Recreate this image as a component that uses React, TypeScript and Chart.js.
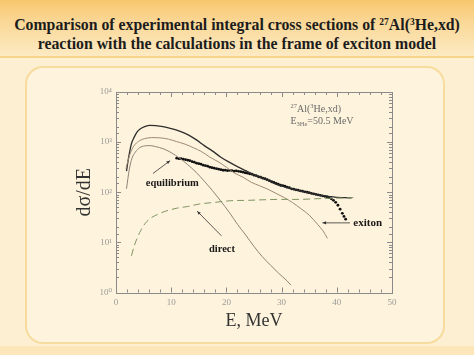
import React, { useEffect, useRef } from "react";
import { Chart, registerables } from "chart.js";

Chart.register(...registerables);

// ---------- data (E in MeV, dσ/dE) ----------
const totalE = [1.9, 2.3, 2.8, 3.3, 3.8, 4.5, 5.2, 6.2, 7.2, 8.5, 10, 11.5, 13, 14.5, 16, 17.5, 19, 20.5, 22, 23.5, 25, 26.5, 28, 29.5, 31, 32.5, 34, 35.5, 37, 38.5, 40, 41.5, 42.7];
const totalY = [263, 501, 933, 1259, 1585, 1862, 2042, 2158, 2138, 2042, 1862, 1660, 1413, 1122, 851, 661, 501, 398, 324, 269, 224, 191, 162, 138, 123, 112, 102, 93, 87, 83, 79, 78, 77];

const excitonE = [1.8, 2.3, 2.9, 3.5, 4.3, 5.2, 6.5, 8, 9.5, 11, 12.5, 14, 15.5, 17, 18.5, 20, 21.5, 23, 24.5, 26, 27.5, 29, 30.5, 32, 33.5, 35, 36.5, 37.5, 38.3];
const excitonY = [295, 479, 724, 912, 1072, 1175, 1230, 1216, 1148, 1023, 912, 776, 646, 501, 407, 316, 240, 200, 158, 135, 115, 95, 78, 62, 47, 35, 23, 17, 12];

const equilE = [1.9, 2.4, 2.9, 3.5, 4.3, 5.2, 6.2, 7.2, 8.5, 10, 11.5, 13, 14.5, 16, 17.5, 19, 20.5, 22, 23.5, 25, 26.5, 28, 29.5, 31, 31.7];
const equilY = [117, 282, 479, 631, 776, 841, 851, 813, 741, 617, 479, 355, 251, 166, 107, 66, 40, 23, 14, 8.3, 5.2, 3.5, 2.4, 1.7, 1.4];

const directE = [2.8, 3.3, 3.9, 4.5, 5.3, 6.2, 7.5, 9, 11, 13, 15, 18, 21, 24, 27, 30, 33, 36, 39, 41, 43];
const directY = [5.4, 8.5, 12.6, 17.4, 24, 30, 36, 42, 48, 52, 58, 63, 68, 69, 71, 72, 72, 74, 76, 77, 78];

const expE = [11.0, 11.4, 11.8, 12.2, 12.6, 13.0, 13.4, 13.8, 14.2, 14.6, 15.0, 15.4, 15.8, 16.2, 16.6, 17.0, 17.4, 17.8, 18.2, 18.6, 19.0, 19.4, 19.8, 20.2, 20.6, 21.0, 21.4, 21.8, 22.2, 22.6, 23.0, 23.4, 23.8, 24.2, 24.6, 25.0, 25.4, 25.8, 26.2, 26.6, 27.0, 27.4, 27.8, 28.2, 28.6, 29.0, 29.4, 29.8, 30.2, 30.6, 31.0, 31.4, 31.8, 32.2, 32.6, 33.0, 33.4, 33.8, 34.2, 34.6, 35.0, 35.4, 35.8, 36.2, 36.6, 37.0, 37.4, 37.8, 38.2, 38.6, 39.0, 39.4, 39.8, 40.2, 40.6, 41.0, 41.3, 41.6];
const expY = [479, 468, 468, 457, 447, 437, 427, 407, 398, 380, 372, 363, 347, 339, 331, 316, 309, 302, 295, 288, 282, 275, 276, 269, 274, 270, 263, 268, 262, 257, 251, 245, 240, 234, 229, 219, 214, 204, 200, 191, 186, 178, 170, 162, 158, 151, 145, 138, 135, 132, 126, 123, 117, 115, 112, 110, 107, 105, 102, 100, 98, 95, 93, 91, 89, 87, 85, 83, 81, 78, 74, 69, 63, 55, 46, 38, 33, 29];

const xTickLabels = ["0", "10", "20", "30", "40", "50"];
const yTickLabels = ["10⁰", "10¹", "10²", "10³", "10⁴"];

const xTitle = "E, MeV";
const yTitle = "dσ/dE";

// ---------- styles ----------
const SERIF = "'Liberation Serif', 'Times New Roman', 'DejaVu Serif', serif";
const AXIS = "#8a8a8a";
const TICKTXT = "#9a9a9a";

// annotation anchors in data coordinates
const ANNOTATIONS = [
  { text: [{ t: "equilibrium" }], x: 10.2, y: 150, align: "center", font: "bold 10.5px", color: "#1a1a1a" },
  { text: [{ t: "direct" }], x: 19.2, y: 7.4, align: "center", font: "bold 10.5px", color: "#1a1a1a" },
  { text: [{ t: "exiton" }], x: 43.0, y: 24, align: "left", font: "bold 11px", color: "#1a1a1a" },
  { text: [{ t: "27", s: "sup" }, { t: "Al(" }, { t: "3", s: "sup" }, { t: "He,xd)" }], x: 31.6, y: 4500, align: "left", font: "10px", color: "#6a6a6a" },
  { text: [{ t: "E" }, { t: "3He", s: "sub" }, { t: "=50.5 MeV" }], x: 31.6, y: 2550, align: "left", font: "10px", color: "#6a6a6a" },
];
const ARROWS = [
  { from: [6.7, 237], to: [9.8, 427] },
  { from: [19.1, 13.5], to: [14.7, 42] },
  { from: [42.4, 24.5], to: [37.4, 24.5] },
];

type Part = { t: string; s?: string };

function drawRich(ctx: CanvasRenderingContext2D, parts: Part[], x: number, y: number, align: string, font: string, color: string) {
  const size = parseFloat(font.replace("bold", "").trim());
  const bold = font.includes("bold") ? "bold " : "";
  const small = `${bold}${(size * 0.65).toFixed(1)}px ${SERIF}`;
  const big = `${bold}${size}px ${SERIF}`;
  let w = 0;
  for (const p of parts) {
    ctx.font = p.s ? small : big;
    w += ctx.measureText(p.t).width;
  }
  let cx = align === "center" ? x - w / 2 : x;
  ctx.fillStyle = color;
  ctx.textBaseline = "middle";
  ctx.textAlign = "left";
  for (const p of parts) {
    ctx.font = p.s ? small : big;
    const dy = p.s === "sup" ? -size * 0.35 : p.s === "sub" ? size * 0.3 : 0;
    ctx.fillText(p.t, cx, y + dy);
    cx += ctx.measureText(p.t).width;
  }
}

const framePlugin = {
  id: "frameTicks",
  afterDatasetsDraw(chart: any) {
    const { ctx, chartArea: a, scales } = chart;
    const xs = scales.x;
    const ys = scales.y;
    ctx.save();
    ctx.strokeStyle = AXIS;
    ctx.lineWidth = 1;
    ctx.strokeRect(Math.round(a.left) + 0.5, Math.round(a.top) + 0.5, Math.round(a.right - a.left), Math.round(a.bottom - a.top));
    ctx.beginPath();
    for (const t of xs.ticks) {
      const px = Math.round(xs.getPixelForValue(t.value)) + 0.5;
      const len = t.value % 10 === 0 ? 5 : 3;
      ctx.moveTo(px, a.bottom);
      ctx.lineTo(px, a.bottom - len);
      ctx.moveTo(px, a.top);
      ctx.lineTo(px, a.top + len);
    }
    for (const t of ys.ticks) {
      const py = Math.round(ys.getPixelForValue(t.value)) + 0.5;
      const lg = Math.log10(t.value);
      const len = Math.abs(lg - Math.round(lg)) < 1e-6 ? 5 : 3;
      ctx.moveTo(a.left, py);
      ctx.lineTo(a.left + len, py);
      ctx.moveTo(a.right, py);
      ctx.lineTo(a.right - len, py);
    }
    ctx.stroke();
    ctx.restore();
  },
  afterDraw(chart: any) {
    const { ctx, scales } = chart;
    const xs = scales.x;
    const ys = scales.y;
    ctx.save();
    ctx.strokeStyle = "#333";
    ctx.fillStyle = "#333";
    ctx.lineWidth = 0.8;
    for (const ar of ARROWS) {
      const x1 = xs.getPixelForValue(ar.from[0]);
      const y1 = ys.getPixelForValue(ar.from[1]);
      const x2 = xs.getPixelForValue(ar.to[0]);
      const y2 = ys.getPixelForValue(ar.to[1]);
      ctx.beginPath();
      ctx.moveTo(x1, y1);
      ctx.lineTo(x2, y2);
      ctx.stroke();
      const ang = Math.atan2(y2 - y1, x2 - x1);
      const hl = 4;
      ctx.beginPath();
      ctx.moveTo(x2, y2);
      ctx.lineTo(x2 - hl * Math.cos(ang - 0.4), y2 - hl * Math.sin(ang - 0.4));
      ctx.lineTo(x2 - hl * Math.cos(ang + 0.4), y2 - hl * Math.sin(ang + 0.4));
      ctx.closePath();
      ctx.fill();
    }
    for (const an of ANNOTATIONS) {
      drawRich(ctx, an.text as Part[], xs.getPixelForValue(an.x), ys.getPixelForValue(an.y), an.align, an.font, an.color);
    }
    ctx.restore();
  },
};

function pts(xsArr: number[], ysArr: number[]) {
  return xsArr.map((x, i) => ({ x, y: ysArr[i] }));
}

function ChartCanvas() {
  const ref = useRef<HTMLCanvasElement | null>(null);
  useEffect(() => {
    if (!ref.current) return;
    const lineBase = { pointRadius: 0, borderWidth: 1, fill: false, cubicInterpolationMode: "monotone" as const };
    const chart = new Chart(ref.current, {
      type: "line",
      data: {
        datasets: [
          { ...lineBase, label: "direct", data: pts(directE, directY), borderColor: "#7f9463", borderDash: [7, 4] },
          { ...lineBase, label: "equilibrium", data: pts(equilE, equilY), borderColor: "#8c8478" },
          { ...lineBase, label: "exciton", data: pts(excitonE, excitonY), borderColor: "#9c8a74" },
          { ...lineBase, label: "total", data: pts(totalE, totalY), borderColor: "#2e2e2e", borderWidth: 1.3 },
          { label: "experiment", data: pts(expE, expY), showLine: false, pointRadius: 1.4, pointBackgroundColor: "#111", pointBorderWidth: 0, borderColor: "#111" },
        ],
      },
      options: {
        animation: false,
        responsive: false,
        maintainAspectRatio: false,
        devicePixelRatio: 1,
        layout: { padding: { left: 0, right: 82, top: 92, bottom: 0 } },
        plugins: { legend: { display: false }, tooltip: { enabled: false } },
        scales: {
          x: {
            type: "linear",
            min: 0,
            max: 50,
            grid: { display: false, drawTicks: false },
            border: { display: false },
            ticks: {
              stepSize: 2,
              autoSkip: false,
              maxRotation: 0,
              padding: 5,
              color: TICKTXT,
              font: { family: SERIF, size: 9 },
              callback: (v: any) => (Number(v) % 10 === 0 ? xTickLabels[Number(v) / 10] : ""),
            },
            title: { display: true, text: xTitle, color: "#333", font: { family: SERIF, size: 18 }, padding: { top: 0, bottom: 23 } },
            afterFit: (s: any) => { s.height = 62.5; },
          },
          y: {
            type: "logarithmic",
            min: 1,
            max: 10000,
            grid: { display: false, drawTicks: false },
            border: { display: false },
            ticks: {
              autoSkip: false,
              padding: 4,
              color: TICKTXT,
              font: { family: SERIF, size: 9 },
              callback: (v: any) => {
                const lg = Math.log10(Number(v));
                return Math.abs(lg - Math.round(lg)) < 1e-6 ? yTickLabels[Math.round(lg)] : "";
              },
            },
            title: { display: true, text: yTitle, color: "#333", font: { family: SERIF, size: 20 }, padding: { top: 73, bottom: 0 } },
            afterFit: (s: any) => { s.width = 116; },
          },
        },
      },
      plugins: [framePlugin],
    });
    return () => chart.destroy();
  }, []);
  return <canvas ref={ref} width={474} height={355} style={{ position: "absolute", left: 0, top: 0, width: 474, height: 355 }} />;
}

export default function App() {
  return (
    <div style={{ position: "fixed", left: 0, top: 0, width: 474, height: 355, overflow: "hidden", background: "#FDEFD2", fontFamily: SERIF }}>
      <div style={{ position: "absolute", left: 0, top: 0, width: 474, height: 56, background: "linear-gradient(#F8C76E 0%, #FAD897 40%, #FDEAC3 100%)" }} />
      <div style={{ position: "absolute", left: 0, top: 56, width: 474, height: 2, background: "#F6D48A" }} />
      <div style={{ position: "absolute", left: 0, top: 346, width: 474, height: 9, background: "#FCE6BA" }} />
      <div style={{ position: "absolute", left: 25, top: 66, width: 420, height: 278, boxSizing: "border-box", border: "2px solid #F7DC9E", borderRadius: 18, background: "#FEF3DC" }} />
      <div style={{ position: "absolute", left: 0, top: 15, width: 474, textAlign: "center", fontWeight: "bold", fontSize: 15.8, lineHeight: "19px", color: "#1c1c1c", whiteSpace: "nowrap" }}>
        <div>Comparison of experimental integral cross sections of <sup style={{ fontSize: 9.5, verticalAlign: "5px", lineHeight: 0 }}>27</sup>Al(<sup style={{ fontSize: 9.5, verticalAlign: "5px", lineHeight: 0 }}>3</sup>He,xd)</div>
        <div>reaction with the calculations in the frame of exciton model</div>
      </div>
      <ChartCanvas />
    </div>
  );
}
